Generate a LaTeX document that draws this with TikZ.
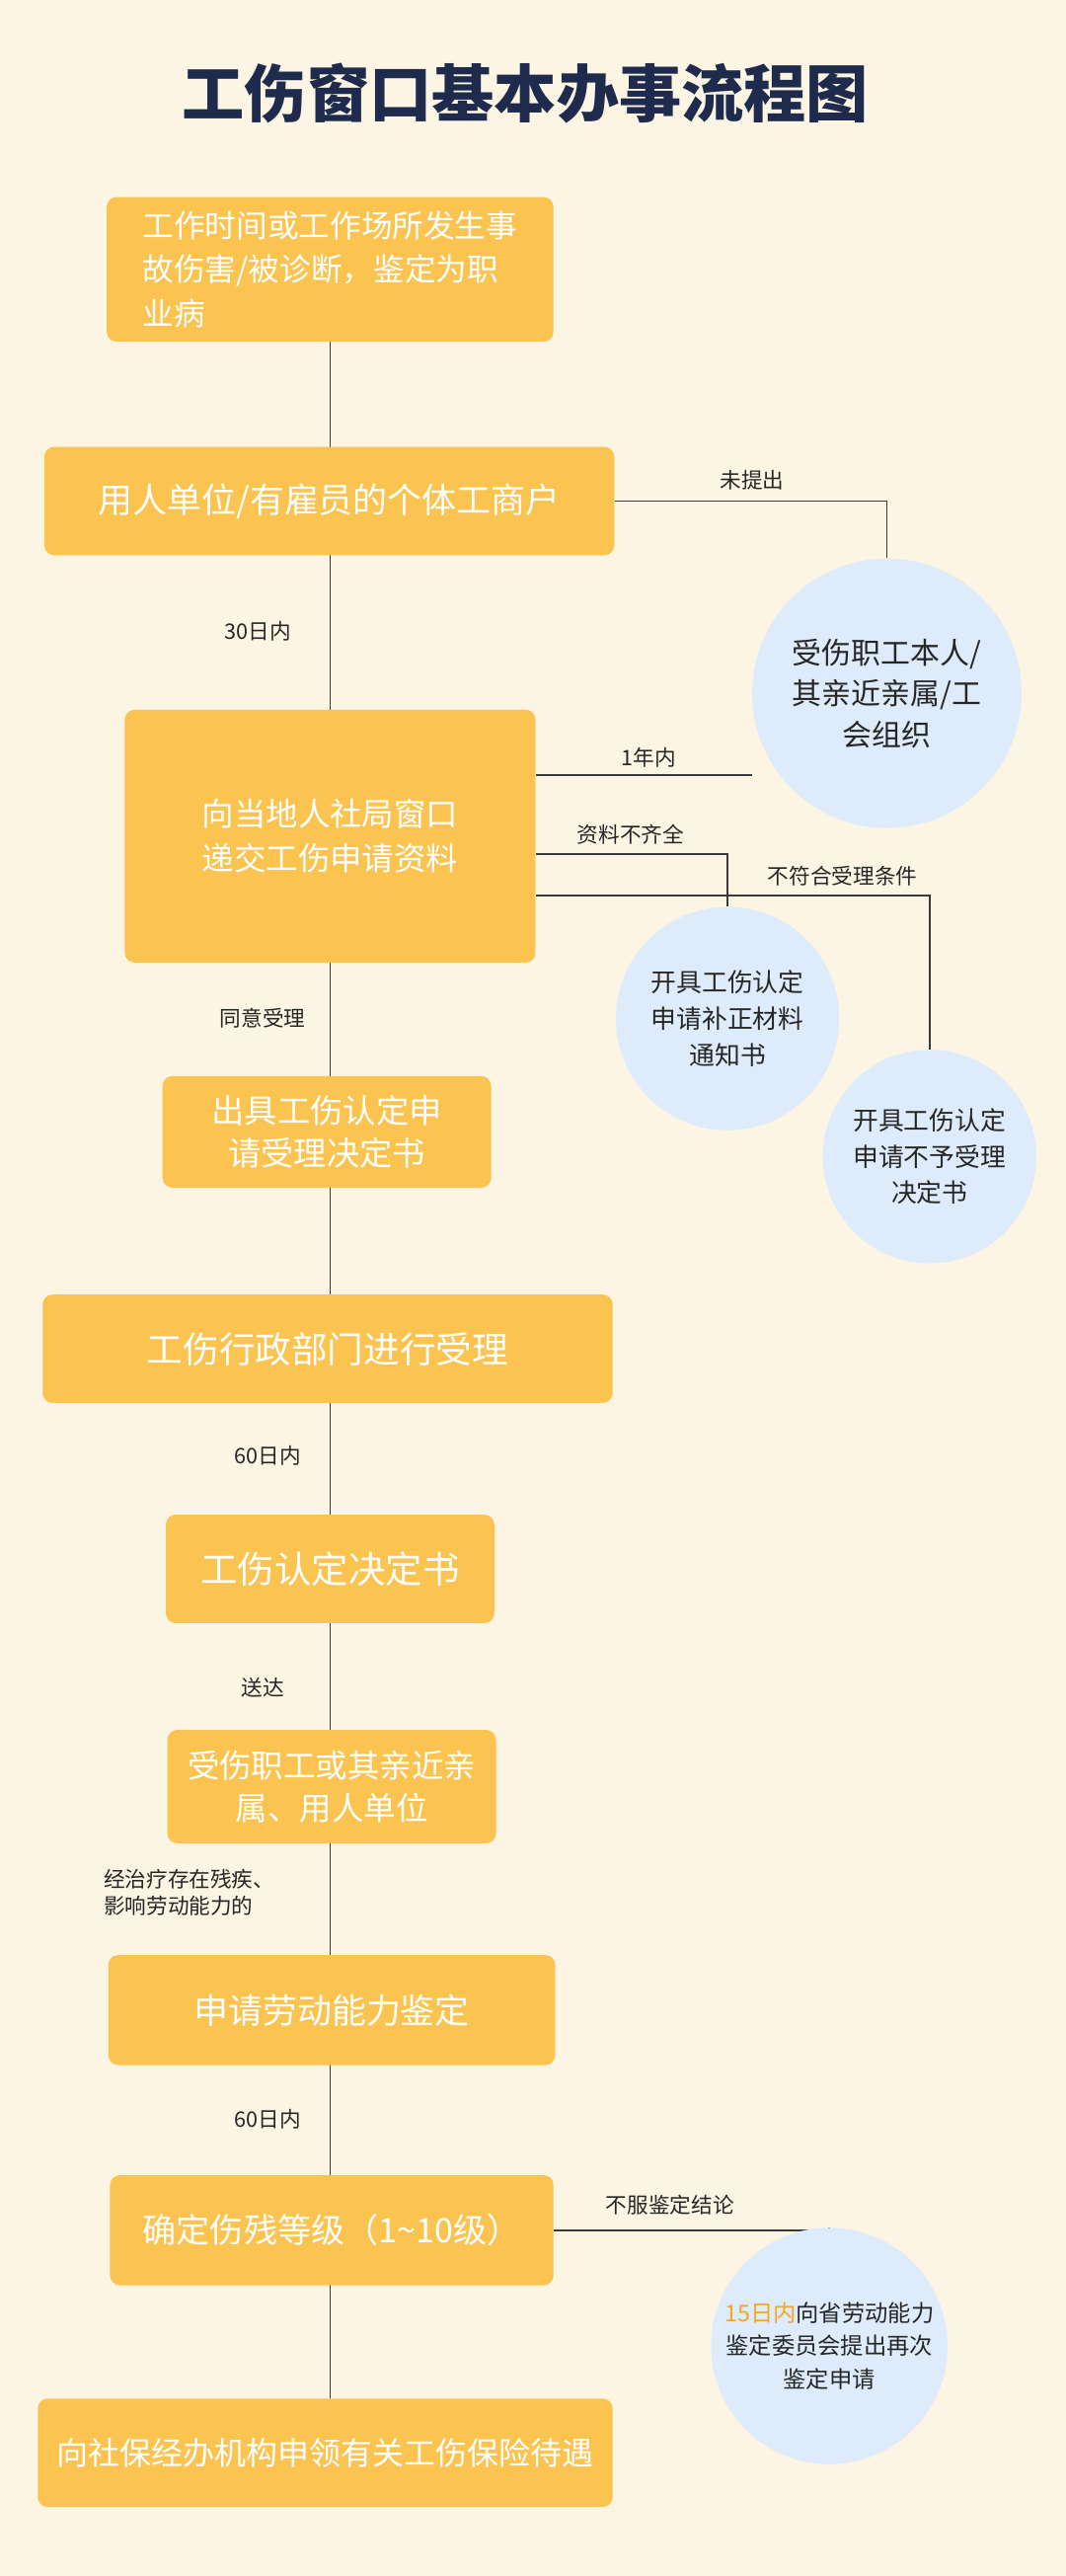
\documentclass[tikz,border=0pt]{standalone}
\usepackage{fontspec}
\setmainfont{Noto Sans CJK SC}
\usetikzlibrary{backgrounds}
\definecolor{bg}{HTML}{FDF5E3}
\definecolor{gold}{HTML}{FBC34F}
\definecolor{navy}{HTML}{1E2B4D}
\definecolor{lblue}{HTML}{DDEBFA}
\definecolor{ln}{HTML}{3A3A3A}
\definecolor{orng}{HTML}{F5A623}
\tikzset{
  box/.style={fill=gold,rounded corners=6pt,text=white,align=center,inner sep=0pt},
  circ/.style={circle,fill=lblue,text=black!85,align=center,inner sep=0pt},
  conn/.style={draw=ln,line width=1.1pt},
  lab/.style={font=\fontsize{13}{16}\selectfont,text=black!85,inner sep=1pt}
}
\begin{document}
\begin{tikzpicture}[x=1pt,y=-1pt]
\useasboundingbox (0,0) rectangle (649,1568);
\node[text=navy,font=\fontsize{38}{40}\selectfont\bfseries] (title) at (320,57) {工伤窗口基本办事流程图};
% main boxes
\node[box,minimum width=272,minimum height=88,font=\fontsize{19}{27}\selectfont,align=left] (b1) at (201,164) {工作时间或工作场所发生事\\故伤害/被诊断，鉴定为职\\业病};
\node[box,minimum width=347,minimum height=66,font=\fontsize{21}{26}\selectfont] (b2) at (200.5,305) {用人单位/有雇员的个体工商户};
\node[box,minimum width=250,minimum height=154,font=\fontsize{19.5}{27}\selectfont] (b3) at (201,509) {向当地人社局窗口\\递交工伤申请资料};
\node[box,minimum width=200,minimum height=68,font=\fontsize{20}{26}\selectfont] (b4) at (199,689) {出具工伤认定申\\请受理决定书};
\node[box,minimum width=347,minimum height=66,font=\fontsize{22}{26}\selectfont] (b5) at (199.5,821) {工伤行政部门进行受理};
\node[box,minimum width=200,minimum height=66,font=\fontsize{22.5}{26}\selectfont] (b6) at (201,955) {工伤认定决定书};
\node[box,minimum width=200,minimum height=69,font=\fontsize{19.5}{26}\selectfont] (b7) at (202,1087.5) {受伤职工或其亲近亲\\属、用人单位};
\node[box,minimum width=272,minimum height=67,font=\fontsize{21}{26}\selectfont] (b8) at (202,1223.5) {申请劳动能力鉴定};
\node[box,minimum width=270,minimum height=67,font=\fontsize{20.5}{26}\selectfont] (b9) at (202,1357.5) {确定伤残等级（1\textasciitilde10级）};
\node[box,minimum width=350,minimum height=66,font=\fontsize{19.2}{26}\selectfont] (b10) at (198,1493) {向社保经办机构申领有关工伤保险待遇};
% circles
\node[circ,minimum size=164,font=\fontsize{18}{25}\selectfont] (cA) at (540,422) {受伤职工本人/\\其亲近亲属/工\\会组织};
\node[circ,minimum size=136,font=\fontsize{15.5}{22}\selectfont] (cB) at (443,620) {开具工伤认定\\申请补正材料\\通知书};
\node[circ,minimum size=130,font=\fontsize{15.5}{22}\selectfont] (cC) at (566,704) {开具工伤认定\\申请不予受理\\决定书};
\node[circ,minimum size=144,font=\fontsize{14}{20}\selectfont] (cD) at (505,1428) {{\color{orng}15日内}向省劳动能力\\鉴定委员会提出再次\\鉴定申请};
% background and connectors
\begin{scope}[on background layer]
\fill[bg] (0,0) rectangle (649,1568);
\draw[conn] (b1.south -| 201,0) -- (b10.north -| 201,0);
\draw[conn] (b2.east) -- (540,305) -- (cA.north);
\draw[conn] (b3.east |- 0,472) -- (cA.west |- 0,472);
\draw[conn] (b3.east |- 0,520) -- (443,520) -- (cB.north);
\draw[conn] (b3.east |- 0,545) -- (566,545) -- (cC.north);
\draw[conn] (b9.east) -- (505,1357.5) -- (cD.north);
\end{scope}
% labels
\node[lab] (l1) at (458,292) {未提出};
\node[lab] (l2) at (157,384) {30日内};
\node[lab] (l3) at (395,461) {1年内};
\node[lab] (l4) at (384,508) {资料不齐全};
\node[lab] (l5) at (513,533) {不符合受理条件};
\node[lab] (l6) at (160,620) {同意受理};
\node[lab] (l7) at (163,886) {60日内};
\node[lab] (l8) at (160,1027) {送达};
\node[lab,align=left,anchor=west] (l9) at (62,1152) {经治疗存在残疾、\\影响劳动能力的};
\node[lab] (l10) at (163,1290) {60日内};
\node[lab] (l11) at (408,1342) {不服鉴定结论};
\end{tikzpicture}
\end{document}
